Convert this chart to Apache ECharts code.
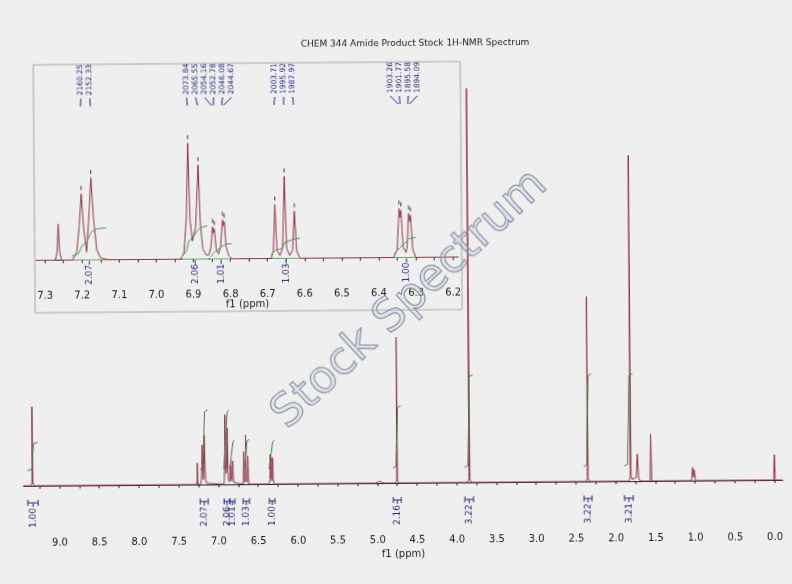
<!DOCTYPE html>
<html>
<head>
<meta charset="utf-8">
<title>CHEM 344 Amide Product Stock 1H-NMR Spectrum</title>
<script src="https://cdn.jsdelivr.net/npm/echarts@6.0.0/dist/echarts.min.js"></script>
<style>
  html, body { margin: 0; padding: 0; background: #efefef; }
  #chart { width: 792px; height: 584px; transform: rotate(-0.45deg); }
</style>
</head>
<body>
<div id="chart"></div>
<script>
const chartTitle = 'CHEM 344 Amide Product Stock 1H-NMR Spectrum'
const specFreq = 300 // MHz, peak list is in Hz

// spectrum: [ppm, intensity]
const trace = [
  [9.45, 0], [9.36, 0], [9.345, 5], [9.34, 132], [9.335, 5], [9.32, 0],
  [7.32, 0], [7.272, 0], [7.267, 8], [7.2635, 36], [7.26, 8], [7.255, 0],
  [7.225, 0], [7.214, 8], [7.207, 33], [7.2008, 66], [7.195, 33], [7.1875, 8],
  [7.181, 41], [7.1744, 82], [7.168, 41], [7.16, 10], [7.15, 2], [7.13, 0],
  [6.935, 0], [6.925, 6], [6.918, 40], [6.9128, 116], [6.908, 40], [6.902, 18],
  [6.898, 16], [6.893, 32], [6.8852, 94], [6.88, 35], [6.874, 10], [6.865, 4],
  [6.858, 4], [6.852, 12], [6.8472, 32], [6.845, 26], [6.8426, 30], [6.838, 10],
  [6.832, 5], [6.826, 12], [6.8203, 39], [6.818, 33], [6.8156, 37], [6.811, 12],
  [6.804, 3], [6.795, 0],
  [6.69, 0], [6.684, 8], [6.679, 54], [6.674, 8], [6.666, 3], [6.659, 10],
  [6.6531, 82], [6.648, 10], [6.64, 3], [6.632, 8], [6.6266, 47], [6.621, 7], [6.612, 0],
  [6.36, 0], [6.35, 8], [6.3442, 49], [6.3417, 40], [6.3392, 47], [6.334, 10],
  [6.326, 5], [6.323, 12], [6.3186, 44], [6.3161, 36], [6.3136, 42], [6.308, 8], [6.3, 0],
  [5.02, 0], [4.97, 3], [4.92, 0],
  [4.77, 0], [4.755, 5], [4.75, 243], [4.745, 5], [4.73, 0],
  [3.86, 0], [3.845, 7], [3.84, 657], [3.835, 7], [3.82, 0],
  [2.37, 0], [2.355, 6], [2.35, 308], [2.345, 6], [2.33, 0],
  [2.06, 0], [2.04, 3], [2.02, 0],
  [1.83, 0], [1.815, 8], [1.81, 543], [1.805, 8], [1.79, 3],
  [1.74, 6], [1.725, 45], [1.71, 5], [1.69, 0],
  [1.565, 0], [1.555, 78], [1.545, 0],
  [1.26, 0], [1.24, 3], [1.22, 0],
  [1.045, 0], [1.03, 22], [1.02, 6], [1.01, 18], [0.995, 0],
  [0.01, 0], [0.0, 42], [-0.01, 0], [-0.1, 0]
]

// peak picking (Hz), one list per multiplet
const peakGroups = [
  [2160.25, 2152.33],
  [2073.84, 2065.55, 2054.16, 2052.78, 2046.08, 2044.67],
  [2003.71, 1995.92, 1987.97],
  [1903.26, 1901.77, 1895.58, 1894.09]
]

// integrals
const intFrom = [9.40, 7.23, 6.93, 6.855, 6.69, 6.36, 4.80, 3.90, 2.40, 1.89]
const intTo = [9.27, 7.13, 6.86, 6.795, 6.61, 6.29, 4.70, 3.79, 2.30, 1.78]
const intValue = [1.00, 2.07, 2.06, 1.01, 1.03, 1.00, 2.16, 3.22, 3.22, 3.21]

// integral curves of the inset
const insetCurves = [
  [[7.228, 4], [7.21, 6], [7.2, 14], [7.187, 18], [7.174, 28], [7.16, 31], [7.134, 32]],
  [[6.932, 2], [6.918, 8], [6.912, 18], [6.9, 22], [6.885, 30], [6.875, 32], [6.862, 33]],
  [[6.853, 2], [6.845, 6], [6.835, 9], [6.82, 13], [6.808, 15], [6.796, 15]],
  [[6.69, 4], [6.679, 8], [6.66, 10], [6.653, 16], [6.63, 19], [6.612, 20]],
  [[6.358, 4], [6.342, 10], [6.33, 14], [6.316, 19], [6.3, 20]]
]

const mainLabels = [0, 0.5, 1, 1.5, 2, 2.5, 3, 3.5, 4, 4.5, 5, 5.5, 6, 6.5, 7, 7.5, 8, 8.5, 9]
const mainTicks = [0, 0.25, 0.5, 0.75, 1, 1.25, 1.5, 1.75, 2, 2.25, 2.5, 2.75, 3, 3.25, 3.5, 3.75,
  4, 4.25, 4.5, 4.75, 5, 5.25, 5.5, 5.75, 6, 6.25, 6.5, 6.75, 7, 7.25, 7.5, 7.75, 8, 8.25, 8.5, 8.75, 9, 9.25]
const insetLabels = [6.2, 6.3, 6.4, 6.5, 6.6, 6.7, 6.8, 6.9, 7.0, 7.1, 7.2, 7.3]
const insetTicks = [6.2, 6.25, 6.3, 6.35, 6.4, 6.45, 6.5, 6.55, 6.6, 6.65, 6.7, 6.75, 6.8, 6.85,
  6.9, 6.95, 7.0, 7.05, 7.1, 7.15, 7.2, 7.25, 7.3]

const specColor = '#8e3447'
const intColor = '#27287a'
const font = '"DejaVu Sans", Verdana, sans-serif'

const chart = echarts.init(document.getElementById('chart'))

// main integral curves (steep S over each region)
const mainCurveSeries = intFrom.map((f, i) => {
  const c = (f + intTo[i]) / 2
  const lo = 25
  const hi = lo + intValue[i] * 48
  return {
    type: 'line',
    xAxisIndex: 0,
    yAxisIndex: 0,
    showSymbol: false,
    silent: true,
    z: 4,
    lineStyle: { color: '#4d7a45', width: 1 },
    data: [[f, lo], [c + 0.012, lo + 3], [c - 0.012, hi - 3], [intTo[i], hi]]
  }
})

const insetCurveSeries = insetCurves.map(pts => ({
  type: 'line',
  xAxisIndex: 1,
  yAxisIndex: 1,
  showSymbol: false,
  silent: true,
  z: 4,
  lineStyle: { color: '#4f9a48', width: 1 },
  data: pts
}))

// peak labels: label x spread around each multiplet, height taken from the trace
const peakLabelData = []
peakGroups.forEach(g => {
  const mean = g.reduce((s, v) => s + v, 0) / g.length / specFreq
  g.forEach((hz, i) => {
    const ppm = hz / specFreq
    let h = 0
    trace.forEach(p => {
      if (Math.abs(p[0] - ppm) < 0.002 && p[1] > h) h = p[1]
    })
    peakLabelData.push([ppm, mean, i - (g.length - 1) / 2, hz, h])
  })
})

const insetInts = []
intFrom.forEach((f, i) => {
  if (f < 7.3 && intTo[i] > 6.2) insetInts.push([f, intTo[i], intValue[i]])
})

const option = {
  animation: false,
  backgroundColor: '#efefef',
  grid: [
    { left: 22, top: 60, width: 759, height: 466 },
    { left: 37, top: 62, width: 421, height: 217 }
  ],
  xAxis: [
    {
      type: 'value',
      gridIndex: 0,
      inverse: true,
      min: -0.1,
      max: 9.453,
      name: 'f1 (ppm)',
      nameLocation: 'middle',
      nameGap: 13,
      nameTextStyle: { fontFamily: font, fontSize: 10, color: '#222' },
      axisLine: { lineStyle: { color: '#222', width: 1 } },
      axisTick: { customValues: mainTicks, length: 3, lineStyle: { color: '#222' } },
      axisLabel: {
        customValues: mainLabels,
        formatter: v => v.toFixed(1),
        fontFamily: font,
        fontSize: 10,
        color: '#1a1a1a',
        margin: 9
      },
      splitLine: { show: false }
    },
    {
      type: 'value',
      gridIndex: 1,
      inverse: true,
      min: 6.187,
      max: 7.322,
      name: 'f1 (ppm)',
      nameLocation: 'middle',
      nameGap: 19,
      nameTextStyle: { fontFamily: font, fontSize: 10, color: '#222' },
      axisLine: { lineStyle: { color: '#222', width: 1 } },
      axisTick: { customValues: insetTicks, length: 3, lineStyle: { color: '#222' } },
      axisLabel: {
        customValues: insetLabels,
        formatter: v => v.toFixed(1),
        fontFamily: font,
        fontSize: 10,
        color: '#1a1a1a',
        margin: 9
      },
      splitLine: { show: false }
    }
  ],
  yAxis: [
    { type: 'value', gridIndex: 0, min: -71.67, max: 705, show: false, splitLine: { show: false } },
    { type: 'value', gridIndex: 1, min: -21.5, max: 195.5, show: false, splitLine: { show: false } }
  ],
  graphic: [
    {
      type: 'text',
      x: 417,
      y: 44,
      style: { text: chartTitle, font: '9px ' + font, fill: '#222', align: 'center', verticalAlign: 'middle' }
    },
    {
      type: 'rect',
      shape: { x: 35, y: 62, width: 427, height: 248 },
      style: { fill: 'none', stroke: '#a8a8a8', lineWidth: 1 },
      z: 1
    },
    {
      type: 'text',
      x: 410,
      y: 300,
      rotation: 0.74,
      z: 100,
      style: {
        text: 'Stock Spectrum',
        font: '45px ' + font,
        fill: 'rgba(190,196,210,0.25)',
        stroke: '#8a93a8',
        lineWidth: 1.3,
        align: 'center',
        verticalAlign: 'middle'
      }
    }
  ],
  series: [
    {
      name: 'spectrum',
      type: 'line',
      xAxisIndex: 0,
      yAxisIndex: 0,
      showSymbol: false,
      silent: true,
      z: 3,
      lineStyle: { color: specColor, width: 1 },
      data: trace
    },
    ...mainCurveSeries,
    {
      name: 'integrals',
      type: 'custom',
      xAxisIndex: 0,
      yAxisIndex: 0,
      silent: true,
      data: intFrom.map((f, i) => [f, intTo[i], intValue[i]]),
      renderItem: (params, api) => {
        const a = api.coord([api.value(0), 0])
        const b = api.coord([api.value(1), 0])
        const y = a[1] + 17
        const mx = (a[0] + b[0]) / 2
        const st = { stroke: intColor, lineWidth: 1 }
        return {
          type: 'group',
          children: [
            { type: 'line', shape: { x1: a[0], y1: y, x2: b[0], y2: y }, style: st },
            { type: 'line', shape: { x1: a[0], y1: y - 3, x2: a[0], y2: y + 3 }, style: st },
            { type: 'line', shape: { x1: b[0], y1: y - 3, x2: b[0], y2: y + 3 }, style: st },
            { type: 'line', shape: { x1: mx, y1: y, x2: mx, y2: y + 4 }, style: st },
            {
              type: 'text',
              x: mx,
              y: y + 15,
              rotation: Math.PI / 2,
              style: {
                text: api.value(2).toFixed(2),
                font: '9px ' + font,
                fill: intColor,
                align: 'center',
                verticalAlign: 'middle'
              }
            }
          ]
        }
      }
    },
    {
      name: 'inset',
      type: 'line',
      xAxisIndex: 1,
      yAxisIndex: 1,
      showSymbol: false,
      silent: true,
      z: 3,
      lineStyle: { color: specColor, width: 1 },
      data: trace
    },
    ...insetCurveSeries,
    {
      name: 'inset integrals',
      type: 'custom',
      xAxisIndex: 1,
      yAxisIndex: 1,
      silent: true,
      data: insetInts,
      renderItem: (params, api) => {
        const a = api.coord([api.value(0), 0])
        const b = api.coord([api.value(1), 0])
        const mx = (a[0] + b[0]) / 2
        return {
          type: 'group',
          children: [
            { type: 'line', shape: { x1: a[0], y1: a[1], x2: b[0], y2: b[1] }, style: { stroke: '#6aa860', lineWidth: 1 } },
            { type: 'line', shape: { x1: mx, y1: a[1] + 1, x2: mx, y2: a[1] + 5 }, style: { stroke: intColor, lineWidth: 1 } },
            {
              type: 'text',
              x: mx,
              y: a[1] + 15,
              rotation: Math.PI / 2,
              style: {
                text: api.value(2).toFixed(2),
                font: '9px ' + font,
                fill: intColor,
                align: 'center',
                verticalAlign: 'middle'
              }
            }
          ]
        }
      }
    },
    {
      name: 'peak labels',
      type: 'custom',
      xAxisIndex: 1,
      yAxisIndex: 1,
      silent: true,
      data: peakLabelData,
      renderItem: (params, api) => {
        const top = params.coordSys.y
        const tip = api.coord([api.value(0), api.value(4)])
        const px = tip[0]
        const cx = api.coord([api.value(1), 0])[0]
        const lx = cx + api.value(2) * 9
        return {
          type: 'group',
          children: [
            {
              type: 'text',
              x: lx,
              y: top + 31,
              rotation: Math.PI / 2,
              style: {
                text: api.value(3).toFixed(2),
                font: '7.5px ' + font,
                fill: intColor,
                align: 'left',
                verticalAlign: 'middle'
              }
            },
            { type: 'line', shape: { x1: lx, y1: top + 34, x2: px, y2: top + 42 }, style: { stroke: intColor, lineWidth: 1 } },
            { type: 'line', shape: { x1: px, y1: tip[1] - 8, x2: px, y2: tip[1] - 4 }, style: { stroke: '#4a2a50', lineWidth: 1 } }
          ]
        }
      }
    }
  ]
}

chart.setOption(option)
</script>
</body>
</html>
